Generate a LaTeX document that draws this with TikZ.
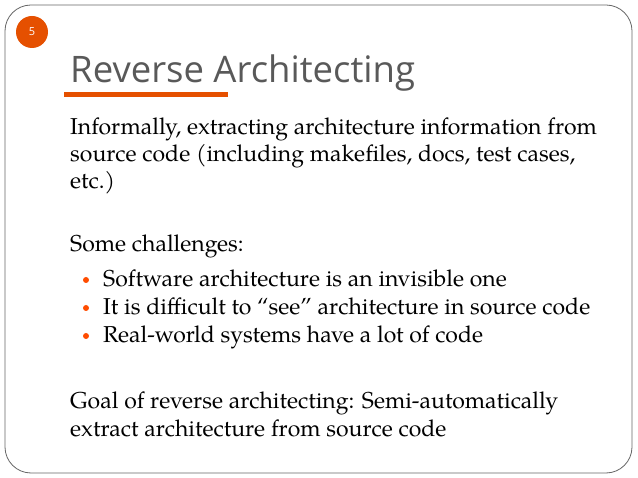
\documentclass[tikz,border=0pt]{standalone}
\usepackage{fontspec}
\setmainfont{TeX Gyre Pagella}
\newfontfamily\titlefont{Open Sans}
\begin{document}
\begin{tikzpicture}[x=1pt,y=-1pt,
  body/.style={anchor=base west,inner sep=0pt,font=\fontsize{23}{26}\selectfont},
  dot/.style={circle,fill=orange!60!red,inner sep=0pt,minimum size=6pt}]
\useasboundingbox (0,0) rectangle (638,478);
\fill[white] (0,0) rectangle (638,478);
\draw[gray!80!black,line width=0.8pt,rounded corners=26pt] (5,5) rectangle (632,473);
\node[circle,fill=orange!70!red!90!black,text=white,minimum size=32pt,inner sep=0pt,font=\titlefont\fontsize{11}{12}\selectfont] (num) at (32,32) {5};
\node[anchor=base west,inner sep=0pt,text=gray!70!black,font=\titlefont\fontsize{36.5}{40}\selectfont] (title) at (70,83) {Reverse Architecting};
\fill[orange!70!red!90!black] (64,92) rectangle (228,97);
\node[body] (l1) at (70,135) {Informally, extracting architecture information from};
\node[body] (l2) at (70,162) {source code (including makefiles, docs, test cases,};
\node[body] (l3) at (70,189) {etc.)};
\node[body] (l4) at (70,252) {Some challenges:};
\node[body] (b1) at (103,287) {Software architecture is an invisible one};
\node[body] (b2) at (103,315) {It is difficult to “see” architecture in source code};
\node[body] (b3) at (103,343) {Real-world systems have a lot of code};
\node[dot] (d1) at (86,280) {};
\node[dot] (d2) at (86,308) {};
\node[dot] (d3) at (86,336) {};
\node[body] (g1) at (70,409) {Goal of reverse architecting: Semi-automatically};
\node[body] (g2) at (70,437) {extract architecture from source code};
\end{tikzpicture}
\end{document}
